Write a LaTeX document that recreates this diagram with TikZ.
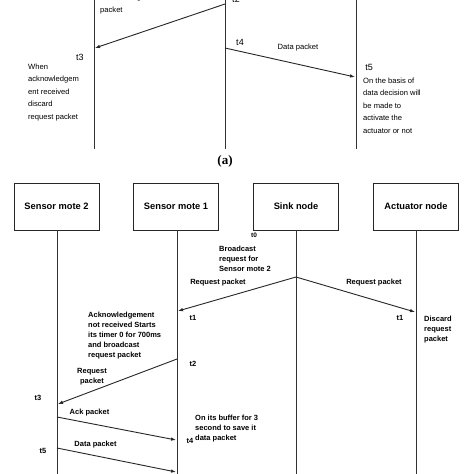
\documentclass[tikz,border=0pt]{standalone}
\usepackage{fontspec}
\setsansfont{Liberation Sans}
\newfontfamily\capserif{Liberation Serif}
\usetikzlibrary{arrows.meta}
\tikzset{
  life/.style={line width=0.9pt, draw=black!80},
  msg/.style={line width=0.9pt, draw=black!85, -{Latex[length=5pt,width=3.6pt]}},
  actor/.style={draw=black!85, line width=0.8pt, minimum width=85pt, minimum height=47pt, inner sep=0pt,
     font=\sffamily\bfseries\fontsize{9.3}{11}\selectfont},
  toptxt/.style={inner sep=0pt, align=left, anchor=north west, font=\sffamily\fontsize{7.6}{12.5}\selectfont},
  toplbl/.style={inner sep=0pt, font=\sffamily\fontsize{9}{10}\selectfont},
  bottxt/.style={inner sep=0pt, align=left, anchor=north west, font=\sffamily\bfseries\fontsize{7.5}{10}\selectfont},
  botlbl/.style={inner sep=0pt, font=\sffamily\bfseries\fontsize{7.5}{9}\selectfont},
}
\begin{document}
\begin{tikzpicture}[x=1pt,y=-1pt]
\useasboundingbox[fill=white] (0,0) rectangle (474,474);
\begin{scope}
\clip (0,0) rectangle (474,474);
% ---------- part (a), cropped at the top ----------
\coordinate (A1top) at (94,0);   \coordinate (A1bot) at (94,149);
\coordinate (A2top) at (225,0);  \coordinate (A2bot) at (225,149);
\coordinate (A3top) at (356,0);  \coordinate (A3bot) at (356,149);
\draw[life] (A1top) -- (A1bot);
\draw[life] (A2top) -- (A2bot);
\draw[life] (A3top) -- (A3bot);
\coordinate (a2s) at (225,4);  \coordinate (a1e) at (95,48);
\coordinate (a2d) at (225,48); \coordinate (a3e) at (355,77);
\draw[msg] (a2s) -- (a1e);
\draw[msg] (a2d) -- (a3e);
\node[toptxt] (ackpk) at (100,-6) {Acknowledgement\\packet};
\node[toplbl] (ta2) at (236,-1) {t2};
\node[toplbl] (ta4) at (240,42) {t4};
\node[toptxt, anchor=center] (tadata) at (298,48) {Data packet};
\node[toplbl] (ta3) at (80,57) {t3};
\node[toplbl] (ta5) at (369,67) {t5};
\node[toptxt] (tawhen) at (28,63.5) {When\\acknowledgem\\ent received\\discard\\request packet};
\node[toptxt] (tabasis) at (363,77.5) {On the basis of\\data decision will\\be made to\\activate the\\actuator or not};
\node[inner sep=0pt, font=\capserif\bfseries\fontsize{13}{14}\selectfont] (cap) at (225,161) {(a)};
% ---------- part (b) ----------
\node[actor] (sm2) at (56.5,206.5) {Sensor mote 2};
\node[actor] (sm1) at (176,206.5) {Sensor mote 1};
\node[actor] (sink) at (296,206.5) {Sink node};
\node[actor] (act) at (416,206.5) {Actuator node};
\coordinate (sm2end) at (57,474);
\coordinate (sm1end) at (177,474);
\coordinate (sinkend) at (296,474);
\coordinate (actend) at (416,474);
\draw[life] (sm2.south -| sm2end) -- (sm2end);
\draw[life] (sm1.south -| sm1end) -- (sm1end);
\draw[life] (sink.south -| sinkend) -- (sinkend);
\draw[life] (act.south -| actend) -- (actend);
% message points
\coordinate (k0) at (296,277);
\coordinate (m1a) at (178,311);
\coordinate (c1a) at (415,312);
\coordinate (m1b) at (177,359);
\coordinate (m2a) at (58,404);
\coordinate (m2b) at (57,417);
\coordinate (m1c) at (176,440);
\coordinate (m2c) at (57,448);
\coordinate (m1d) at (176,472);
\draw[msg] (k0) -- (m1a);
\draw[msg] (k0) -- (c1a);
\draw[msg] (m1b) -- (m2a);
\draw[msg] (m2b) -- (m1c);
\draw[msg] (m2c) -- (m1d);
% labels
\node[botlbl, font=\sffamily\bfseries\fontsize{6.5}{8}\selectfont] (t0) at (254,235) {t0};
\node[bottxt] (bcast) at (219,245.7) {Broadcast\\request for\\Sensor mote 2};
\node[botlbl] (rq1) at (218,283) {Request packet};
\node[botlbl] (rq2) at (374,283) {Request packet};
\node[botlbl] (t1l) at (193,318) {t1};
\node[botlbl] (t1r) at (400,318) {t1};
\node[bottxt] (disc) at (424,315.7) {Discard\\request\\packet};
\node[bottxt] (ackn) at (88,311.7) {Acknowledgement\\not received Starts\\its timer 0 for 700ms\\and broadcast\\request packet};
\node[botlbl] (t2b) at (193,364) {t2};
\node[bottxt, align=center, anchor=north] (rq3) at (92,367.7) {Request\\packet};
\node[botlbl] (t3b) at (38,398) {t3};
\node[botlbl] (ackp) at (89.5,413) {Ack packet};
\node[botlbl] (t4b) at (190,441) {t4};
\node[bottxt] (buf) at (195,414.7) {On its buffer for 3\\second to save it\\data packet};
\node[botlbl] (datp) at (95.5,445) {Data packet};
\node[botlbl] (t5b) at (43,451) {t5};
\end{scope}
\end{tikzpicture}
\end{document}
